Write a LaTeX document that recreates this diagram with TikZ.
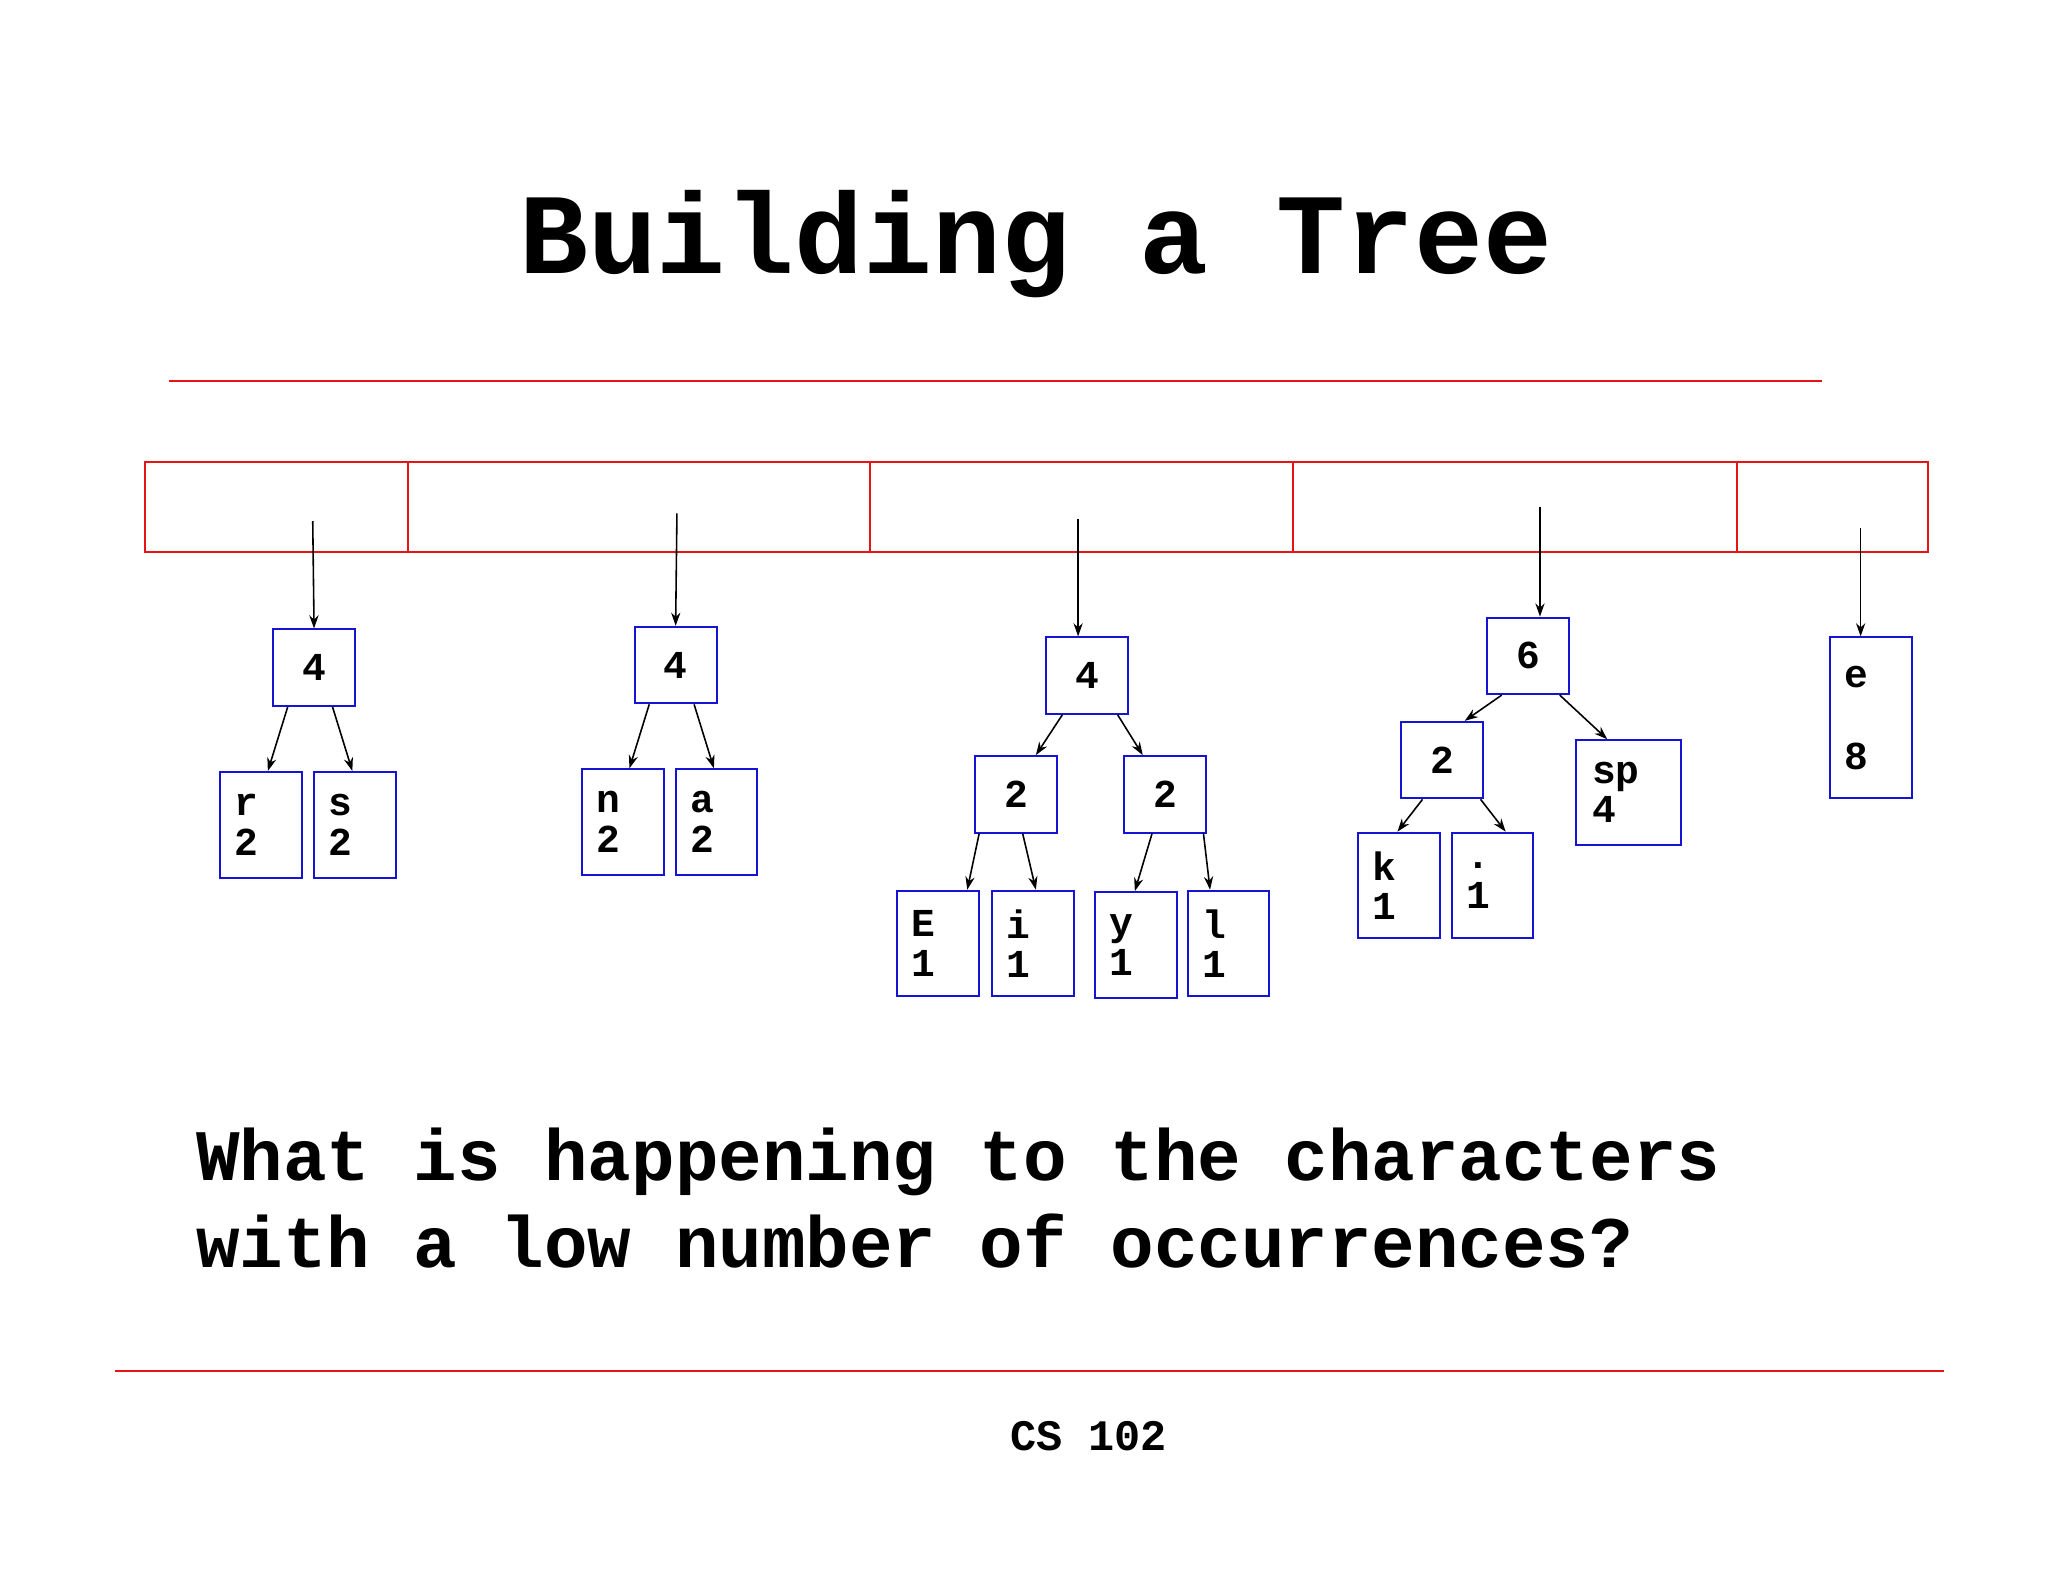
\documentclass[tikz,border=0pt]{standalone}
\usepackage{fontspec}
\setmainfont{Liberation Mono}
\usetikzlibrary{arrows.meta}
\definecolor{bx}{RGB}{20,20,210}
\definecolor{rd}{RGB}{230,20,20}
\begin{document}
\begin{tikzpicture}[x=1pt,y=-1pt,
  sq/.style={draw=bx,line width=1.5pt,minimum width=62pt,minimum height=58pt,inner sep=0pt,font=\fontsize{30}{30}\selectfont\bfseries},
  lf/.style={draw=bx,line width=1.5pt,minimum width=62pt,minimum height=80pt,inner sep=0pt,align=left,text width=40pt,font=\fontsize{30}{30}\selectfont\bfseries},
  arr/.style={-{Stealth[length=10pt,width=7pt]},line width=1.2pt},
  rl/.style={draw=rd,line width=1.5pt}]
\useasboundingbox (0,0) rectangle (1552,1199);
\node[font=\fontsize{87}{87}\selectfont\bfseries] (title) at (785,185) {Building a Tree};
\draw[rl] (128,289) -- (1381,289);
\draw[rl] (87,1039) -- (1473,1039);
\draw[rl] (110,350) rectangle (1461,418);
\foreach \x in {309,659,980,1316} \draw[rl] (\x,350) -- (\x,418);
% tree 1
\node[sq] (a) at (238,506) {4};
\node[lf] (ar) at (198,625) {r\\2};
\node[lf] (as) at (269,625) {s\\2};
\coordinate (ta) at (237,395);
\draw[arr] (ta) -- (a.north);
\draw[arr] ([xshift=-20pt]a.south) -- ([xshift=5pt]ar.north);
\draw[arr] ([xshift=14pt]a.south) -- ([xshift=-2pt]as.north);
% tree 2
\node[sq] (b) at (512,504) {4};
\node[lf] (bn) at (472,623) {n\\2};
\node[lf] (ba) at (543,623) {a\\2};
\coordinate (tb) at (513,389);
\draw[arr] (tb) -- (b.north);
\draw[arr] ([xshift=-20pt]b.south) -- ([xshift=5pt]bn.north);
\draw[arr] ([xshift=14pt]b.south) -- ([xshift=-2pt]ba.north);
% tree 3
\node[sq] (c) at (824,512) {4};
\node[sq] (c1) at (770,602) {2};
\node[sq] (c2) at (883,602) {2};
\node[lf] (cE) at (711,715) {E\\1};
\node[lf] (ci) at (783,715) {i\\1};
\node[lf] (cy) at (861,716) {y\\1};
\node[lf] (cl) at (931,715) {l\\1};
\coordinate (tc) at (817,393);
\draw[arr] (tc) -- ([xshift=-7pt]c.north);
\draw[arr] ([xshift=-19pt]c.south) -- ([xshift=15pt]c1.north);
\draw[arr] ([xshift=23pt]c.south) -- ([xshift=-17pt]c2.north);
\draw[arr] ([xshift=-28pt]c1.south) -- ([xshift=22pt]cE.north);
\draw[arr] ([xshift=5pt]c1.south) -- ([xshift=2pt]ci.north);
\draw[arr] ([xshift=-10pt]c2.south) -- ([xshift=-1pt]cy.north);
\draw[arr] ([xshift=29pt]c2.south) -- ([xshift=-14pt]cl.north);
% tree 4
\node[sq] (d) at (1158,497) {6};
\node[sq] (d1) at (1093,576) {2};
\node[lf,minimum width=80pt,minimum height=79pt,text width=55pt] (dsp) at (1234,600.5) {sp\\4};
\node[lf] (dk) at (1060,671) {k\\1};
\node[lf] (dd) at (1131,671) {.\\1};
\coordinate (td) at (1167,384);
\draw[arr] (td) -- ([xshift=9pt]d.north);
\draw[arr] ([xshift=-20pt]d.south) -- ([xshift=17pt]d1.north);
\draw[arr] ([xshift=24pt]d.south) -- ([xshift=-16pt]dsp.north);
\draw[arr] ([xshift=-15pt]d1.south) -- ([xshift=-1pt]dk.north);
\draw[arr] ([xshift=29pt]d1.south) -- ([xshift=10pt]dd.north);
% e 8
\node[lf,minimum height=122pt,font=\fontsize{30}{62}\selectfont\bfseries] (e) at (1418,544) {e\\8};
\coordinate (te) at (1410,400);
\draw[arr] (te) -- (te |- e.north);
% text
\node[anchor=west,align=left,font=\fontsize{55}{66}\selectfont\bfseries] (q) at (145,908) {What is happening to the characters\\with a low number of occurrences?};
\node[font=\fontsize{33}{33}\selectfont\bfseries] (cs) at (825,1088) {CS 102};
\end{tikzpicture}
\end{document}
